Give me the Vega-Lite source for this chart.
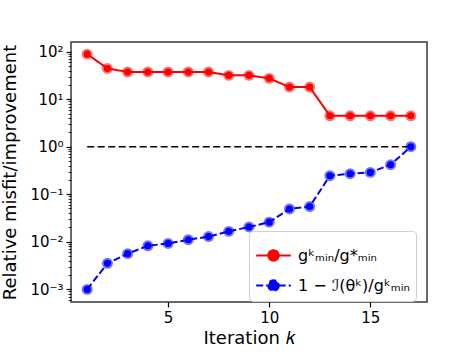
{
  "$schema": "https://vega.github.io/schema/vega-lite/v6.json",
  "autosize": "none",
  "width": 356,
  "height": 260,
  "padding": {"left": 71, "top": 42, "right": 47, "bottom": 53},
  "background": "white",
  "config": {
    "font": "DejaVu Sans",
    "view": {"stroke": "#3a3a3a", "strokeWidth": 1.5},
    "axis": {"labelFont": "DejaVu Sans", "titleFont": "DejaVu Sans", "labelColor": "black", "titleColor": "black", "tickColor": "black", "domain": false, "grid": false, "titleFontWeight": "normal"}
  },
  "datasets": {
    "main": [
      {"k": 1, "v": 89, "s": "gᵏₘᵢₙ/g*ₘᵢₙ"},
      {"k": 2, "v": 44.5, "s": "gᵏₘᵢₙ/g*ₘᵢₙ"},
      {"k": 3, "v": 37.5, "s": "gᵏₘᵢₙ/g*ₘᵢₙ"},
      {"k": 4, "v": 37.5, "s": "gᵏₘᵢₙ/g*ₘᵢₙ"},
      {"k": 5, "v": 37.5, "s": "gᵏₘᵢₙ/g*ₘᵢₙ"},
      {"k": 6, "v": 37.5, "s": "gᵏₘᵢₙ/g*ₘᵢₙ"},
      {"k": 7, "v": 37.5, "s": "gᵏₘᵢₙ/g*ₘᵢₙ"},
      {"k": 8, "v": 31.8, "s": "gᵏₘᵢₙ/g*ₘᵢₙ"},
      {"k": 9, "v": 31.8, "s": "gᵏₘᵢₙ/g*ₘᵢₙ"},
      {"k": 10, "v": 27.5, "s": "gᵏₘᵢₙ/g*ₘᵢₙ"},
      {"k": 11, "v": 18, "s": "gᵏₘᵢₙ/g*ₘᵢₙ"},
      {"k": 12, "v": 18, "s": "gᵏₘᵢₙ/g*ₘᵢₙ"},
      {"k": 13, "v": 4.47, "s": "gᵏₘᵢₙ/g*ₘᵢₙ"},
      {"k": 14, "v": 4.47, "s": "gᵏₘᵢₙ/g*ₘᵢₙ"},
      {"k": 15, "v": 4.47, "s": "gᵏₘᵢₙ/g*ₘᵢₙ"},
      {"k": 16, "v": 4.47, "s": "gᵏₘᵢₙ/g*ₘᵢₙ"},
      {"k": 17, "v": 4.47, "s": "gᵏₘᵢₙ/g*ₘᵢₙ"},
      {"k": 1, "v": 0.00099, "s": "1 − ℐ(θᵏ)/gᵏₘᵢₙ"},
      {"k": 2, "v": 0.0035, "s": "1 − ℐ(θᵏ)/gᵏₘᵢₙ"},
      {"k": 3, "v": 0.0056, "s": "1 − ℐ(θᵏ)/gᵏₘᵢₙ"},
      {"k": 4, "v": 0.0082, "s": "1 − ℐ(θᵏ)/gᵏₘᵢₙ"},
      {"k": 5, "v": 0.0092, "s": "1 − ℐ(θᵏ)/gᵏₘᵢₙ"},
      {"k": 6, "v": 0.011, "s": "1 − ℐ(θᵏ)/gᵏₘᵢₙ"},
      {"k": 7, "v": 0.0128, "s": "1 − ℐ(θᵏ)/gᵏₘᵢₙ"},
      {"k": 8, "v": 0.0165, "s": "1 − ℐ(θᵏ)/gᵏₘᵢₙ"},
      {"k": 9, "v": 0.0204, "s": "1 − ℐ(θᵏ)/gᵏₘᵢₙ"},
      {"k": 10, "v": 0.0258, "s": "1 − ℐ(θᵏ)/gᵏₘᵢₙ"},
      {"k": 11, "v": 0.049, "s": "1 − ℐ(θᵏ)/gᵏₘᵢₙ"},
      {"k": 12, "v": 0.055, "s": "1 − ℐ(θᵏ)/gᵏₘᵢₙ"},
      {"k": 13, "v": 0.245, "s": "1 − ℐ(θᵏ)/gᵏₘᵢₙ"},
      {"k": 14, "v": 0.27, "s": "1 − ℐ(θᵏ)/gᵏₘᵢₙ"},
      {"k": 15, "v": 0.288, "s": "1 − ℐ(θᵏ)/gᵏₘᵢₙ"},
      {"k": 16, "v": 0.417, "s": "1 − ℐ(θᵏ)/gᵏₘᵢₙ"},
      {"k": 17, "v": 1.0, "s": "1 − ℐ(θᵏ)/gᵏₘᵢₙ"}
    ],
    "ref": [{"k": 1, "v": 1}, {"k": 17, "v": 1}]
  },
  "resolve": {"axis": {"y": "independent"}},
  "layer": [
    {
      "data": {"name": "ref"},
      "mark": {"type": "line", "color": "black", "strokeWidth": 1.6, "strokeDash": [7, 3.5]},
      "encoding": {
        "x": {"field": "k", "type": "quantitative", "scale": {"domain": [0.2, 17.8], "nice": false, "zero": false},
              "axis": {"values": [5, 10, 15], "title": "Iteration 𝑘", "labelFontSize": 15, "titleFontSize": 18, "tickSize": 5, "tickWidth": 1.2, "labelPadding": 3, "titlePadding": 4}},
        "y": {"field": "v", "type": "quantitative", "scale": {"type": "log", "domain": [0.000537, 160.3], "nice": false}, "axis": null}
      }
    },
    {
      "data": {"name": "main"},
      "mark": {"type": "line", "strokeWidth": 2},
      "encoding": {
        "x": {"field": "k", "type": "quantitative"},
        "y": {"field": "v", "type": "quantitative",
              "axis": {"orient": "left", "values": [0.001, 0.01, 0.1, 1, 10, 100], "title": "Relative misfit/improvement",
                       "labelExpr": "datum.value >= 50 ? '10²' : datum.value >= 5 ? '10¹' : datum.value >= 0.5 ? '10⁰' : datum.value >= 0.05 ? '10⁻¹' : datum.value >= 0.005 ? '10⁻²' : '10⁻³'",
                       "labelFontSize": 15, "titleFontSize": 18, "tickSize": 5, "tickWidth": 1.2, "labelPadding": 3, "titlePadding": 10}},
        "color": {"field": "s", "type": "nominal", "sort": null,
                  "scale": {"domain": ["gᵏₘᵢₙ/g*ₘᵢₙ", "1 − ℐ(θᵏ)/gᵏₘᵢₙ"], "range": ["#ff0000", "#0000ff"]},
                  "legend": {"title": null, "orient": "none", "legendX": 178, "legendY": 189, "labelFontSize": 16, "labelFont": "DejaVu Sans",
                             "symbolType": "M-1,0H-0.3M0.3,0H1M0.3,0A0.3,0.3 0 1,1 -0.3,0A0.3,0.3 0 1,1 0.3,0", "symbolSize": 1200, "symbolStrokeWidth": 2, "symbolOpacity": 1,
                             "fillColor": "white", "strokeColor": "#d0d0d0", "cornerRadius": 4, "padding": 6, "rowPadding": 2, "labelOffset": 6,
                             "encode": {"symbols": {"update": {"opacity": {"value": 1}, "fillOpacity": {"value": 1}, "strokeOpacity": {"value": 1}}}}}},
        "strokeDash": {"field": "s", "type": "nominal", "sort": null,
                       "scale": {"domain": ["gᵏₘᵢₙ/g*ₘᵢₙ", "1 − ℐ(θᵏ)/gᵏₘᵢₙ"], "range": [[1, 0], [7, 3]]}, "legend": null}
      }
    },
    {
      "data": {"name": "main"},
      "mark": {"type": "point", "filled": true, "size": 120, "opacity": 0.55},
      "encoding": {
        "x": {"field": "k", "type": "quantitative"},
        "y": {"field": "v", "type": "quantitative", "axis": null},
        "color": {"field": "s", "type": "nominal", "sort": null}
      }
    },
    {
      "data": {"name": "main"},
      "mark": {"type": "point", "filled": true, "size": 50, "opacity": 1},
      "encoding": {
        "x": {"field": "k", "type": "quantitative"},
        "y": {"field": "v", "type": "quantitative",
              "axis": {"orient": "left", "values": [0.0006, 0.0007, 0.0008, 0.0009, 0.002, 0.003, 0.004, 0.005, 0.006, 0.007, 0.008, 0.009, 0.02, 0.03, 0.04, 0.05, 0.06, 0.07, 0.08, 0.09, 0.2, 0.3, 0.4, 0.5, 0.6, 0.7, 0.8, 0.9, 2, 3, 4, 5, 6, 7, 8, 9, 20, 30, 40, 50, 60, 70, 80, 90],
                       "labels": false, "title": null, "tickSize": 3, "tickWidth": 0.8}},
        "color": {"field": "s", "type": "nominal", "sort": null}
      }
    }
  ]
}
